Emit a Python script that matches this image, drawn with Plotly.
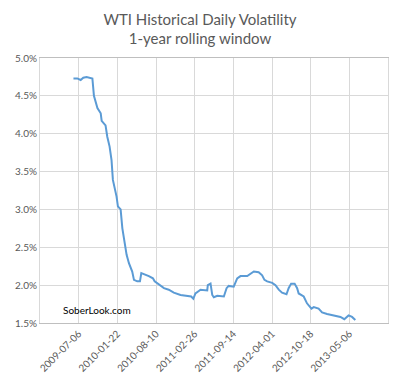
import plotly.graph_objects as go

dates = [
    "2009-06-09", "2009-06-29", "2009-07-16", "2009-07-30", "2009-08-16", "2009-08-28", "2009-09-15",
    "2009-09-23", "2009-10-11", "2009-10-28", "2009-11-02", "2009-11-22", "2009-12-01", "2009-12-13",
    "2009-12-23", "2009-12-30", "2010-01-10", "2010-01-18", "2010-01-25", "2010-01-30", "2010-02-08",
    "2010-02-17", "2010-03-01", "2010-03-11", "2010-03-23", "2010-04-09", "2010-04-18", "2010-05-05",
    "2010-05-19", "2010-05-26", "2010-07-04", "2010-07-25", "2010-08-03", "2010-08-25", "2010-09-20",
    "2010-10-15", "2010-11-10", "2010-12-15", "2011-01-19", "2011-02-08", "2011-02-19", "2011-03-02",
    "2011-03-23", "2011-03-28", "2011-05-02", "2011-05-05", "2011-05-19", "2011-05-28", "2011-06-05",
    "2011-06-23", "2011-07-27", "2011-08-10", "2011-08-21", "2011-09-16", "2011-10-04", "2011-10-21",
    "2011-11-25", "2011-12-12", "2011-12-29", "2012-01-23", "2012-02-10", "2012-02-22", "2012-03-07",
    "2012-04-02", "2012-04-19", "2012-05-06", "2012-05-23", "2012-06-15", "2012-06-26", "2012-07-09",
    "2012-07-27", "2012-08-09", "2012-08-17", "2012-09-12", "2012-09-29", "2012-10-22", "2012-11-03",
    "2012-11-28", "2012-12-16", "2013-01-11", "2013-02-14", "2013-03-21", "2013-04-10", "2013-05-02",
    "2013-05-20", "2013-06-06",
]
volatility_pct = [
    4.73, 4.73, 4.71, 4.74, 4.75, 4.74, 4.73,
    4.50, 4.34, 4.27, 4.17, 4.11, 3.96, 3.83,
    3.65, 3.39, 3.26, 3.17, 3.04, 3.02, 3.00,
    2.75, 2.56, 2.40, 2.29, 2.18, 2.07, 2.05,
    2.05, 2.16, 2.12, 2.09, 2.05, 2.01, 1.96,
    1.94, 1.90, 1.87, 1.86, 1.85, 1.82, 1.89,
    1.93, 1.94, 1.93, 2.00, 2.02, 1.87, 1.84,
    1.86, 1.85, 1.96, 1.99, 1.98, 2.09, 2.12,
    2.12, 2.15, 2.18, 2.17, 2.13, 2.07, 2.05,
    2.03, 2.00, 1.94, 1.90, 1.88, 1.96, 2.02,
    2.02, 1.96, 1.89, 1.85, 1.76, 1.69, 1.71,
    1.69, 1.64, 1.62, 1.60, 1.58, 1.55, 1.60,
    1.58, 1.54,
]
x_ticks = ["2009-07-06", "2010-01-22", "2010-08-10", "2011-02-26",
           "2011-09-14", "2012-04-01", "2012-10-18", "2013-05-06"]
x_range = ["2008-12-18", "2013-11-22"]
y_ticks = [1.5, 2.0, 2.5, 3.0, 3.5, 4.0, 4.5, 5.0]
y_labels = ["1.5%", "2.0%", "2.5%", "3.0%", "3.5%", "4.0%", "4.5%", "5.0%"]

FONT = "Lato, 'Open Sans', sans-serif"

fig = go.Figure(go.Scatter(
    x=dates, y=volatility_pct, mode="lines",
    line=dict(color="#5B9BD5", width=2),
    hoverinfo="x+y",
))

fig.update_layout(
    width=400, height=383,
    margin=dict(l=40, r=12, t=58, b=60),
    paper_bgcolor="white", plot_bgcolor="white",
    showlegend=False,
    font=dict(family=FONT, color="#595959", size=10),
    title=dict(text="WTI Historical Daily Volatility<br>1-year rolling window",
               x=0.5, xanchor="center", y=0.936, yanchor="top",
               font=dict(family=FONT, size=15, color="#595959")),
    annotations=[dict(text="SoberLook.com", xref="paper", yref="paper",
                      x=0.06, y=0.05, xanchor="left", yanchor="middle",
                      showarrow=False, font=dict(family=FONT, size=10, color="#000000"))],
)
fig.update_xaxes(
    type="date", range=x_range, tickvals=x_ticks, ticktext=x_ticks,
    tickangle=-45, showgrid=True, gridcolor="#D9D9D9", gridwidth=1,
    showline=True, linecolor="#BFBFBF", linewidth=1, mirror=True,
    ticks="", tickfont=dict(size=10, color="#595959"), automargin=False,
)
fig.update_yaxes(
    range=[1.5, 5.0], tickvals=y_ticks, ticktext=y_labels,
    showgrid=True, gridcolor="#D9D9D9", gridwidth=1,
    showline=True, linecolor="#D9D9D9", linewidth=1, mirror=True,
    ticks="", zeroline=False, tickfont=dict(size=10, color="#595959"),
    automargin=False,
)

fig.write_html("out.html", config={"displayModeBar": False},
               post_script="document.body.style.margin='0';document.body.style.overflow='hidden';")
